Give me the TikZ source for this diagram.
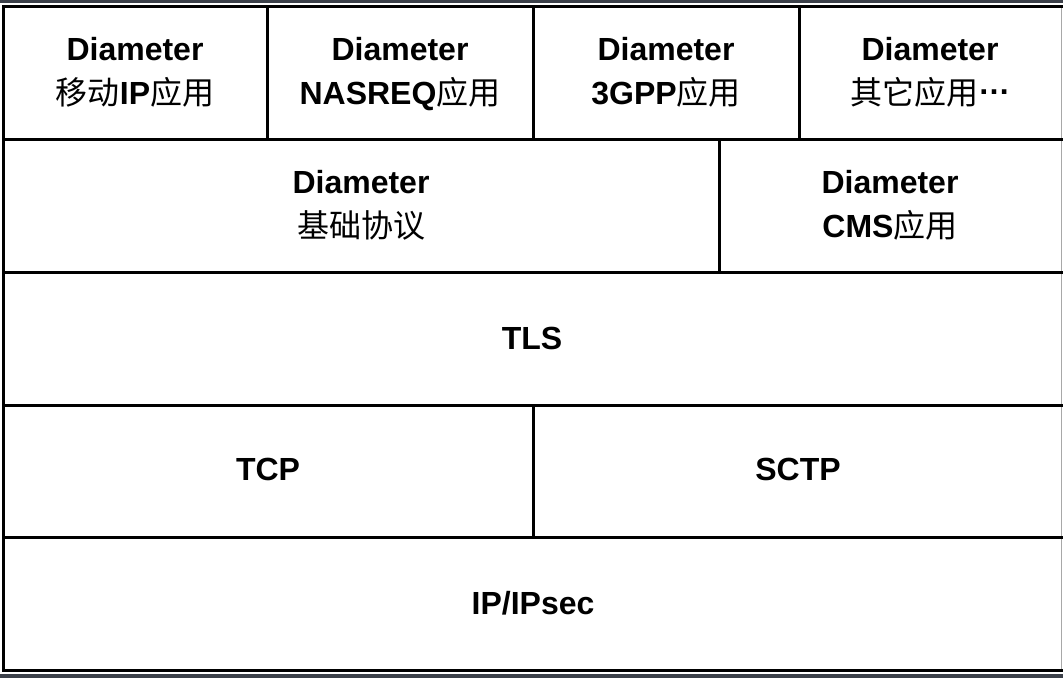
\documentclass[tikz,border=0pt]{standalone}
\usepackage{fontspec}
\setmainfont{Liberation Sans}
\newfontfamily\cjk{Noto Sans CJK SC}
\newcommand{\zh}[1]{{\cjk\mdseries #1}}
\newcommand{\lowfix}{\vphantom{Q\zh{用}}}
\definecolor{band}{HTML}{3B4049}
\definecolor{edgegray}{HTML}{A8A8A8}
\begin{document}
\begin{tikzpicture}[x=1pt,y=-1pt,
  cell/.style={inner sep=0pt, align=center, text=black,
    font=\fontsize{32}{44}\selectfont\bfseries},
  rule/.style={line width=3pt, black}]
\useasboundingbox (0,0) rectangle (1063,678);
\fill[white] (0,0) rectangle (1063,678);
\fill[band] (0,0) rectangle (1063,3);
\fill[band] (0,674) rectangle (1063,678);
% right edge
\draw[edgegray, line width=1.2pt] (1061.5,6) -- (1061.5,670);
% frame and rows
\draw[rule, line join=miter] (1063,6) -- (3,6) -- (3,670) -- (1063,670);
\draw[rule] (3,139) -- (1063,139);
\draw[rule] (3,272) -- (1063,272);
\draw[rule] (3,405) -- (1063,405);
\draw[rule] (3,537) -- (1063,537);
% columns
\draw[rule] (267,6) -- (267,139);
\draw[rule] (533,6) -- (533,139);
\draw[rule] (799,6) -- (799,139);
\draw[rule] (719,139) -- (719,272);
\draw[rule] (533,405) -- (533,537);
% texts
\node[cell] (mip) at (135,74) {Diameter\\\zh{移动}IP\zh{应用}\lowfix};
\node[cell] (nas) at (400,74) {Diameter\\NASREQ\zh{应用}\lowfix};
\node[cell] (gpp) at (666,74) {Diameter\\3GPP\zh{应用}\lowfix};
\node[cell] (oth) at (930,74) {Diameter\\\zh{其它应用}\raisebox{0.3em}{…}\lowfix};
\node[cell] (base) at (361,207) {Diameter\\\zh{基础协议}\lowfix};
\node[cell] (cms) at (890,207) {Diameter\\CMS\zh{应用}\lowfix};
\node[cell] (tls) at (532,338) {TLS};
\node[cell] (tcp) at (268,469) {TCP};
\node[cell] (sctp) at (798,469) {SCTP};
\node[cell] (ip) at (533,603) {IP/IPsec};
\end{tikzpicture}
\end{document}
